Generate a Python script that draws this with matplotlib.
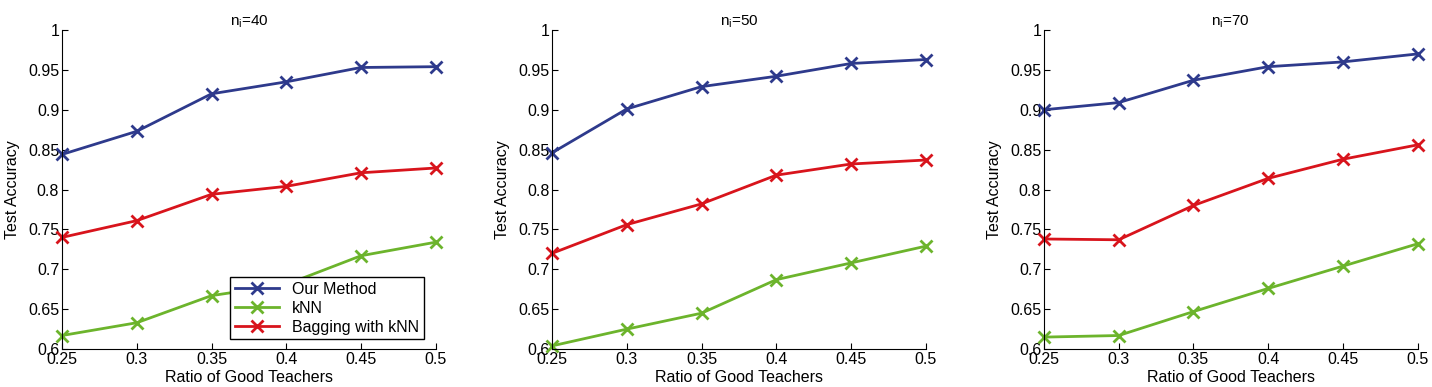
import matplotlib
matplotlib.use('Agg')
import matplotlib.pyplot as plt
from matplotlib.ticker import FuncFormatter

plt.rcParams['font.family'] = ['Liberation Sans', 'DejaVu Sans']
plt.rcParams['mathtext.fontset'] = 'custom'
plt.rcParams['mathtext.rm'] = 'Liberation Sans'
plt.rcParams['mathtext.it'] = 'Liberation Sans'

# ratio of good teachers
ratios = [0.25, 0.3, 0.35, 0.4, 0.45, 0.5]
titles = ['40', '50', '70']

ours = [
    [0.844, 0.873, 0.920, 0.935, 0.953, 0.954],
    [0.846, 0.901, 0.929, 0.942, 0.958, 0.963],
    [0.900, 0.909, 0.937, 0.954, 0.960, 0.970],
]
knn = [
    [0.617, 0.633, 0.667, 0.681, 0.717, 0.734],
    [0.604, 0.625, 0.645, 0.687, 0.708, 0.729],
    [0.615, 0.617, 0.647, 0.676, 0.704, 0.732],
]
bagging = [
    [0.740, 0.761, 0.794, 0.804, 0.821, 0.827],
    [0.720, 0.756, 0.782, 0.818, 0.832, 0.837],
    [0.738, 0.737, 0.780, 0.814, 0.838, 0.856],
]

c_blue = '#2e3a8c'
c_green = '#6cb42c'
c_red = '#d8141c'

fig = plt.figure(figsize=(14.32, 3.87), dpi=100)
lefts = [0.0433, 0.3855, 0.729]
fmt = FuncFormatter(lambda v, p: '%g' % round(v, 3))

for i in range(3):
    ax = fig.add_axes([lefts[i], 0.098, 0.261, 0.8245])
    kw = dict(marker='x', markersize=9, markeredgewidth=2, linewidth=2, clip_on=False)
    ax.plot(ratios, ours[i], color=c_blue, label='Our Method', **kw)
    ax.plot(ratios, knn[i], color=c_green, label='kNN', **kw)
    ax.plot(ratios, bagging[i], color=c_red, label='Bagging with kNN', **kw)
    ax.set_xlim(0.25, 0.5)
    ax.set_ylim(0.6, 1.0)
    ax.set_xticks(ratios)
    ax.set_yticks([0.6, 0.65, 0.7, 0.75, 0.8, 0.85, 0.9, 0.95, 1.0])
    ax.xaxis.set_major_formatter(fmt)
    ax.yaxis.set_major_formatter(fmt)
    ax.spines['top'].set_visible(False)
    ax.spines['right'].set_visible(False)
    ax.tick_params(direction='in', length=4, labelsize=11.5, pad=2)
    ax.set_xlabel('Ratio of Good Teachers', fontsize=11.5, labelpad=2)
    ax.set_ylabel('Test Accuracy', fontsize=11.5, labelpad=6)
    ax.set_title('n$_{\\mathregular{i}}$=' + titles[i], fontsize=11, pad=1)
    if i == 0:
        leg = ax.legend(loc='lower right', bbox_to_anchor=(0.99, 0.005), fontsize=11.5,
                        fancybox=False, framealpha=1, edgecolor='black',
                        borderpad=0.3, labelspacing=0.25, handlelength=2.8)
        leg.get_frame().set_linewidth(1)

fig.savefig('out.png', dpi=100)
